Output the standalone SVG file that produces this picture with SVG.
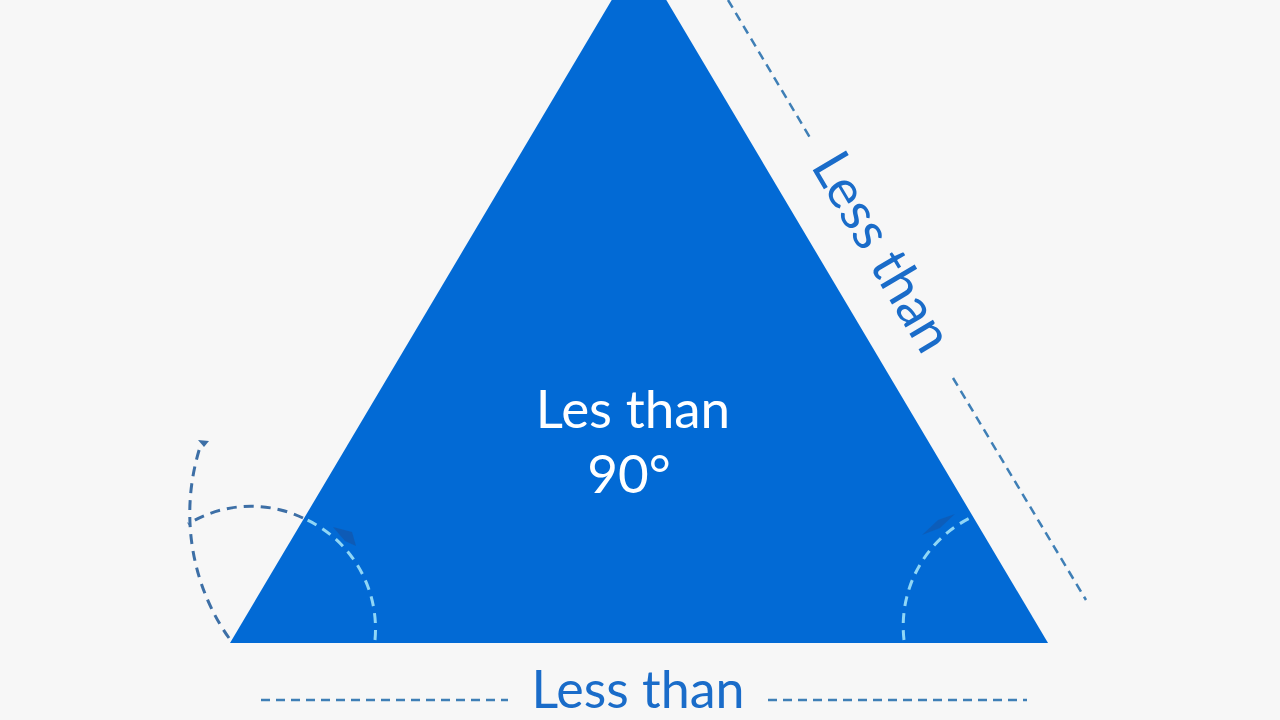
<svg xmlns="http://www.w3.org/2000/svg" width="1280" height="720" viewBox="0 0 1280 720">
<style>
.lbl{font-family:Lato,"Open Sans","Liberation Sans",sans-serif;font-size:54px;fill:#1a6cc9;text-anchor:middle}
.inner{font-family:Lato,"Open Sans","Liberation Sans",sans-serif;font-size:53px;fill:#ffffff;text-anchor:middle}
.dash{fill:none;stroke:#3f7fb6;stroke-width:2.5;stroke-dasharray:9 6}
.arcd{fill:none;stroke:#3d6fa6;stroke-width:3;stroke-dasharray:10 7}
.arcl{fill:none;stroke:#8fd6f6;stroke-width:3;stroke-dasharray:10 7}
</style>
<rect width="1280" height="720" fill="#f7f7f7"/>
<g id="triangle">
<polygon points="230,643 1048,643 639,-46" fill="#026ad5"/>
</g>
<g id="marks">
<path d="M333,527 L352,532 L356,546 L345,541 Z" fill="#1455a8" opacity="0.7"/>
<path d="M922,535 L938,520 L955,514 L940,528 Z" fill="#1455a8" opacity="0.6"/>
</g>
<g id="connectors">
<path class="arcl" d="M375,640 A121,121 0 0 0 303,518"/>
<path class="arcd" d="M303,518 A121,121 0 0 0 188,524"/>
<path class="arcl" d="M904,640 A121,121 0 0 1 972,517"/>
<path class="arcd" d="M229,638 C196,592 176,520 201,444"/>
<path d="M198,440 L209,441 L204,447 Z" fill="#3d6fa6"/>
<line class="dash" x1="261" y1="700" x2="508" y2="700"/>
<line class="dash" x1="768" y1="700" x2="1027" y2="700"/>
<line class="dash" x1="728" y1="0" x2="812" y2="141"/>
<line class="dash" x1="953" y1="378" x2="1086" y2="600"/>
</g>
<g id="label-center">
<text class="inner" x="633" y="428">Les than</text>
<text class="inner" x="629" y="493">90°</text>
</g>
<g id="label-bottom">
<text class="lbl" x="638" y="708" style="font-size:52px">Less than</text>
</g>
<g id="label-side">
<text class="lbl" transform="translate(882,252) rotate(59.4)" y="18">Less than</text>
</g>
</svg>
